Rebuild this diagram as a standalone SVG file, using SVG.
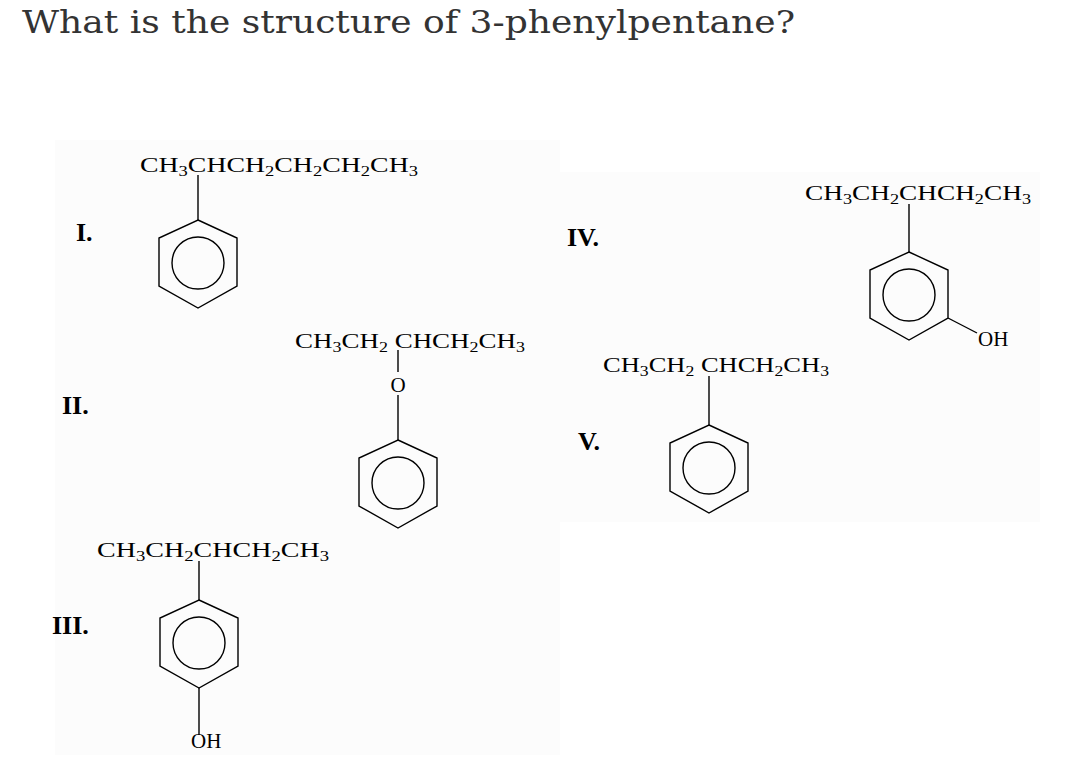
<svg xmlns="http://www.w3.org/2000/svg" width="1070" height="762" viewBox="0 0 1070 762">
<style>
.t{font-family:"Liberation Serif",serif;font-size:21px;fill:#000}
.s{font-size:14px}
.lb{font-family:"Liberation Serif",serif;font-size:26px;font-weight:bold;fill:#000}
.b{stroke:#000;stroke-width:1.4;fill:none}
</style>
<defs>
<g id="ring"><polygon class="b" points="0,0 39,18 39,66 0,88 -39,66 -39,18"/><circle class="b" cx="0" cy="43" r="26"/></g>
</defs>
<rect width="1070" height="762" fill="#fff"/>
<rect x="55" y="140" width="505" height="615" fill="#fcfcfc"/>
<rect x="560" y="172" width="480" height="350" fill="#fcfcfc"/>
<text x="22" y="33" font-family="DejaVu Serif,serif" font-size="32" fill="#333" textLength="773" lengthAdjust="spacingAndGlyphs">What is the structure of 3-phenylpentane?</text>
<g id="s1">
<text class="lb" x="76" y="241">I.</text>
<text class="t" x="140" y="172" textLength="278" lengthAdjust="spacingAndGlyphs">CH<tspan class="s" dy="4">3</tspan><tspan dy="-4">CHCH</tspan><tspan class="s" dy="4">2</tspan><tspan dy="-4">CH</tspan><tspan class="s" dy="4">2</tspan><tspan dy="-4">CH</tspan><tspan class="s" dy="4">2</tspan><tspan dy="-4">CH</tspan><tspan class="s" dy="4">3</tspan></text>
<line class="b" x1="198" y1="175" x2="198" y2="220"/>
<use href="#ring" x="198" y="220"/>
</g>
<g id="s2">
<text class="lb" x="62" y="414">II.</text>
<text class="t" x="295" y="348" textLength="230" lengthAdjust="spacingAndGlyphs">CH<tspan class="s" dy="4">3</tspan><tspan dy="-4">CH</tspan><tspan class="s" dy="4">2</tspan><tspan dy="-4"> CHCH</tspan><tspan class="s" dy="4">2</tspan><tspan dy="-4">CH</tspan><tspan class="s" dy="4">3</tspan></text>
<line class="b" x1="398" y1="350" x2="398" y2="372"/>
<text class="t" x="398" y="392" text-anchor="middle">O</text>
<line class="b" x1="398" y1="395" x2="398" y2="440"/>
<use href="#ring" x="398" y="440"/>
</g>
<g id="s3">
<text class="lb" x="52" y="634">III.</text>
<text class="t" x="97" y="557" textLength="232" lengthAdjust="spacingAndGlyphs">CH<tspan class="s" dy="4">3</tspan><tspan dy="-4">CH</tspan><tspan class="s" dy="4">2</tspan><tspan dy="-4">CHCH</tspan><tspan class="s" dy="4">2</tspan><tspan dy="-4">CH</tspan><tspan class="s" dy="4">3</tspan></text>
<line class="b" x1="199" y1="561" x2="199" y2="600"/>
<use href="#ring" x="199" y="600"/>
<line class="b" x1="199" y1="688" x2="199" y2="735"/>
<text class="t" x="191" y="748">OH</text>
</g>
<g id="s4">
<text class="lb" x="567" y="246">IV.</text>
<text class="t" x="805" y="200" textLength="226" lengthAdjust="spacingAndGlyphs">CH<tspan class="s" dy="4">3</tspan><tspan dy="-4">CH</tspan><tspan class="s" dy="4">2</tspan><tspan dy="-4">CHCH</tspan><tspan class="s" dy="4">2</tspan><tspan dy="-4">CH</tspan><tspan class="s" dy="4">3</tspan></text>
<line class="b" x1="909" y1="204" x2="909" y2="252"/>
<use href="#ring" x="909" y="252"/>
<line class="b" x1="948" y1="318" x2="977" y2="333"/>
<text class="t" x="978" y="346">OH</text>
</g>
<g id="s5">
<text class="lb" x="578" y="450">V.</text>
<text class="t" x="603" y="372" textLength="226" lengthAdjust="spacingAndGlyphs">CH<tspan class="s" dy="4">3</tspan><tspan dy="-4">CH</tspan><tspan class="s" dy="4">2</tspan><tspan dy="-4"> CHCH</tspan><tspan class="s" dy="4">2</tspan><tspan dy="-4">CH</tspan><tspan class="s" dy="4">3</tspan></text>
<line class="b" x1="709" y1="376" x2="709" y2="425"/>
<use href="#ring" x="709" y="425"/>
</g>
</svg>
